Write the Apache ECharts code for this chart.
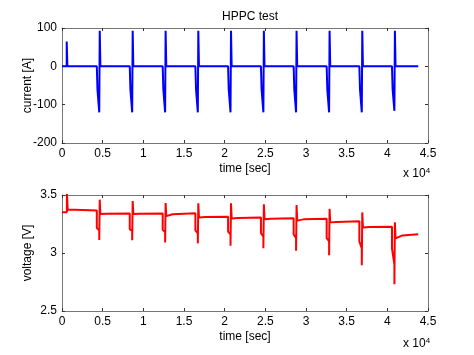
<!DOCTYPE html>
<html><head><meta charset="utf-8">
<script src="https://cdn.jsdelivr.net/npm/echarts@6/dist/echarts.min.js"></script>
<style>html,body{margin:0;padding:0;background:#fff}#c{width:474px;height:355px}</style>
</head><body><div id="c"></div>
<script>
// ---- data ----
var xTicks = [0, 5000, 10000, 15000, 20000, 25000, 30000, 35000, 40000, 45000];
var currentTicks = [-200, -100, 0, 100];
var voltageTicks = [2.5, 3, 3.5];
// initial short charge pulse
var startI = [[0, 0], [580, 0], [580, 65], [660, 65], [660, 0]];
var startV = [[0, 3.352], [600, 3.352], [600, 3.53], [700, 3.53], [700, 3.374]];
// cycle times [s]
var dT0 = [4280, 8330, 12380, 16400, 20420, 24460, 28480, 32540, 36560, 40570];
var dT1 = [4360, 8410, 12460, 16480, 20500, 24540, 28560, 32620, 36640, 40650];
var pT0 = [4580, 8630, 12680, 16700, 20720, 24760, 28780, 32840, 36860, 40870];
var pT1 = [4640, 8690, 12740, 16760, 20780, 24820, 28840, 32900, 36920, 40930];
var cT1 = [4720, 8770, 12820, 16840, 20860, 24900, 28920, 32980, 37000, 41010];
var midT = [5500, 9550, 13600, 17620, 21640, 25680, 29700, 33760, 37780, 41800];
var endT = 43800;
// current levels [A]
var iDis = [-60, -60, -60, -60, -60, -60, -60, -60, -60, -60];
var iPulse = [-120, -120, -120, -120, -120, -120, -120, -120, -120, -116];
var iCharge = [93, 93, 93, 93, 93, 93, 93, 93, 93, 93];
// voltage levels [V]
var vRestStart = [3.366, 3.340, 3.340, 3.342, 3.313, 3.305, 3.299, 3.296, 3.273, 3.227];
var v60a = [3.215, 3.205, 3.200, 3.195, 3.185, 3.170, 3.160, 3.130, 3.100, 3.040];
var v60b = [3.195, 3.190, 3.180, 3.170, 3.160, 3.140, 3.130, 3.100, 3.040, 2.900];
var vMin = [3.112, 3.110, 3.090, 3.083, 3.063, 3.040, 3.020, 2.980, 2.894, 2.730];
var vPeak = [3.460, 3.448, 3.430, 3.428, 3.428, 3.420, 3.414, 3.380, 3.350, 3.264];
var vRelax = [3.336, 3.336, 3.318, 3.306, 3.298, 3.292, 3.279, 3.264, 3.220, 3.126];
var vMid = [3.338, 3.338, 3.334, 3.310, 3.302, 3.296, 3.290, 3.268, 3.224, 3.150];
var vEnd = 3.161;

// ---- build line data ----
var cur = startI.slice(), volt = startV.slice();
for (var k = 0; k < dT0.length; k++) {
  cur.push([dT0[k], 0], [dT1[k], iDis[k]], [pT0[k], iDis[k]], [pT0[k], iPulse[k]],
           [pT1[k], iPulse[k]], [pT1[k], iCharge[k]], [cT1[k], iCharge[k]], [cT1[k], 0]);
  volt.push([dT0[k], vRestStart[k]], [dT0[k], v60a[k]], [dT1[k], v60a[k]], [pT0[k], v60b[k]],
            [pT0[k], vMin[k]], [pT1[k], vMin[k]], [pT1[k], vPeak[k]], [cT1[k], vPeak[k]],
            [cT1[k], vRelax[k]], [midT[k], vMid[k]]);
}
cur.push([endT, 0]);
volt.push([endT, vEnd]);

var FONT = 'Liberation Sans';
var axisCol = '#777';
function xAx(grid, pos, labels, name) {
  return {
    type: 'value', gridIndex: grid, position: pos, min: 0, max: 45000, interval: 5000,
    axisLine: {show: true, onZero: false, lineStyle: {color: axisCol, width: 1}},
    axisTick: {show: true, inside: true, length: 3, lineStyle: {color: '#333'}},
    splitLine: {show: false},
    axisLabel: {show: labels, color: '#000', fontFamily: FONT, fontSize: 12, margin: 5,
      formatter: function (v) { return String(v / 10000); }},
    name: name || '', nameLocation: 'middle', nameGap: 20, nameMoveOverlap: false,
    nameTextStyle: {color: '#000', fontFamily: FONT, fontSize: 12}
  };
}
function yAx(grid, pos, labels, min, max, interval, name) {
  return {
    type: 'value', gridIndex: grid, position: pos, min: min, max: max, interval: interval,
    axisLine: {show: true, onZero: false, lineStyle: {color: axisCol, width: 1}},
    axisTick: {show: true, inside: true, length: 3, lineStyle: {color: '#333'}},
    splitLine: {show: false},
    axisLabel: {show: labels, color: '#000', fontFamily: FONT, fontSize: 12, margin: 5},
    name: name || '', nameLocation: 'middle', nameGap: 28, nameRotate: 90, nameMoveOverlap: false,
    nameTextStyle: {color: '#000', fontFamily: FONT, fontSize: 12}
  };
}

var chart = echarts.init(document.getElementById('c'), null, {renderer: 'canvas'});
chart.setOption({
  animation: false,
  backgroundColor: '#fff',
  title: {text: 'HPPC test', left: 245, top: 6, textAlign: 'center',
    textStyle: {fontFamily: FONT, fontSize: 12, fontWeight: 'normal', color: '#000'}},
  grid: [
    {left: 62, top: 28, width: 366, height: 115},
    {left: 62, top: 195, width: 366, height: 116}
  ],
  xAxis: [
    xAx(0, 'bottom', true, 'time [sec]'), xAx(0, 'top', false),
    xAx(1, 'bottom', true, 'time [sec]'), xAx(1, 'top', false)
  ],
  yAxis: [
    yAx(0, 'left', true, -200, 100, 100, 'current [A]'), yAx(0, 'right', false, -200, 100, 100),
    yAx(1, 'left', true, 2.5, 3.5, 0.5, 'voltage [V]'), yAx(1, 'right', false, 2.5, 3.5, 0.5)
  ],
  series: [
    {type: 'line', xAxisIndex: 0, yAxisIndex: 0, data: cur, showSymbol: false, symbol: 'none',
     lineStyle: {color: '#0000ff', width: 2}, clip: true},
    {type: 'line', xAxisIndex: 2, yAxisIndex: 2, data: volt, showSymbol: false, symbol: 'none',
     lineStyle: {color: '#ff0000', width: 2}, clip: true}
  ],
  graphic: [
    {type: 'text', left: 403, top: 167, style: {rich: {a: {fontFamily: FONT, fontSize: 12, fill: '#000'}, s: {fontFamily: FONT, fontSize: 8, fill: '#000', verticalAlign: 'top', padding: [0, 0, 6, 0]}}, text: '{a|x 10}{s|4}'}},
    {type: 'text', left: 403, top: 337, style: {rich: {a: {fontFamily: FONT, fontSize: 12, fill: '#000'}, s: {fontFamily: FONT, fontSize: 8, fill: '#000', verticalAlign: 'top', padding: [0, 0, 6, 0]}}, text: '{a|x 10}{s|4}'}}
  ]
});
</script></body></html>
